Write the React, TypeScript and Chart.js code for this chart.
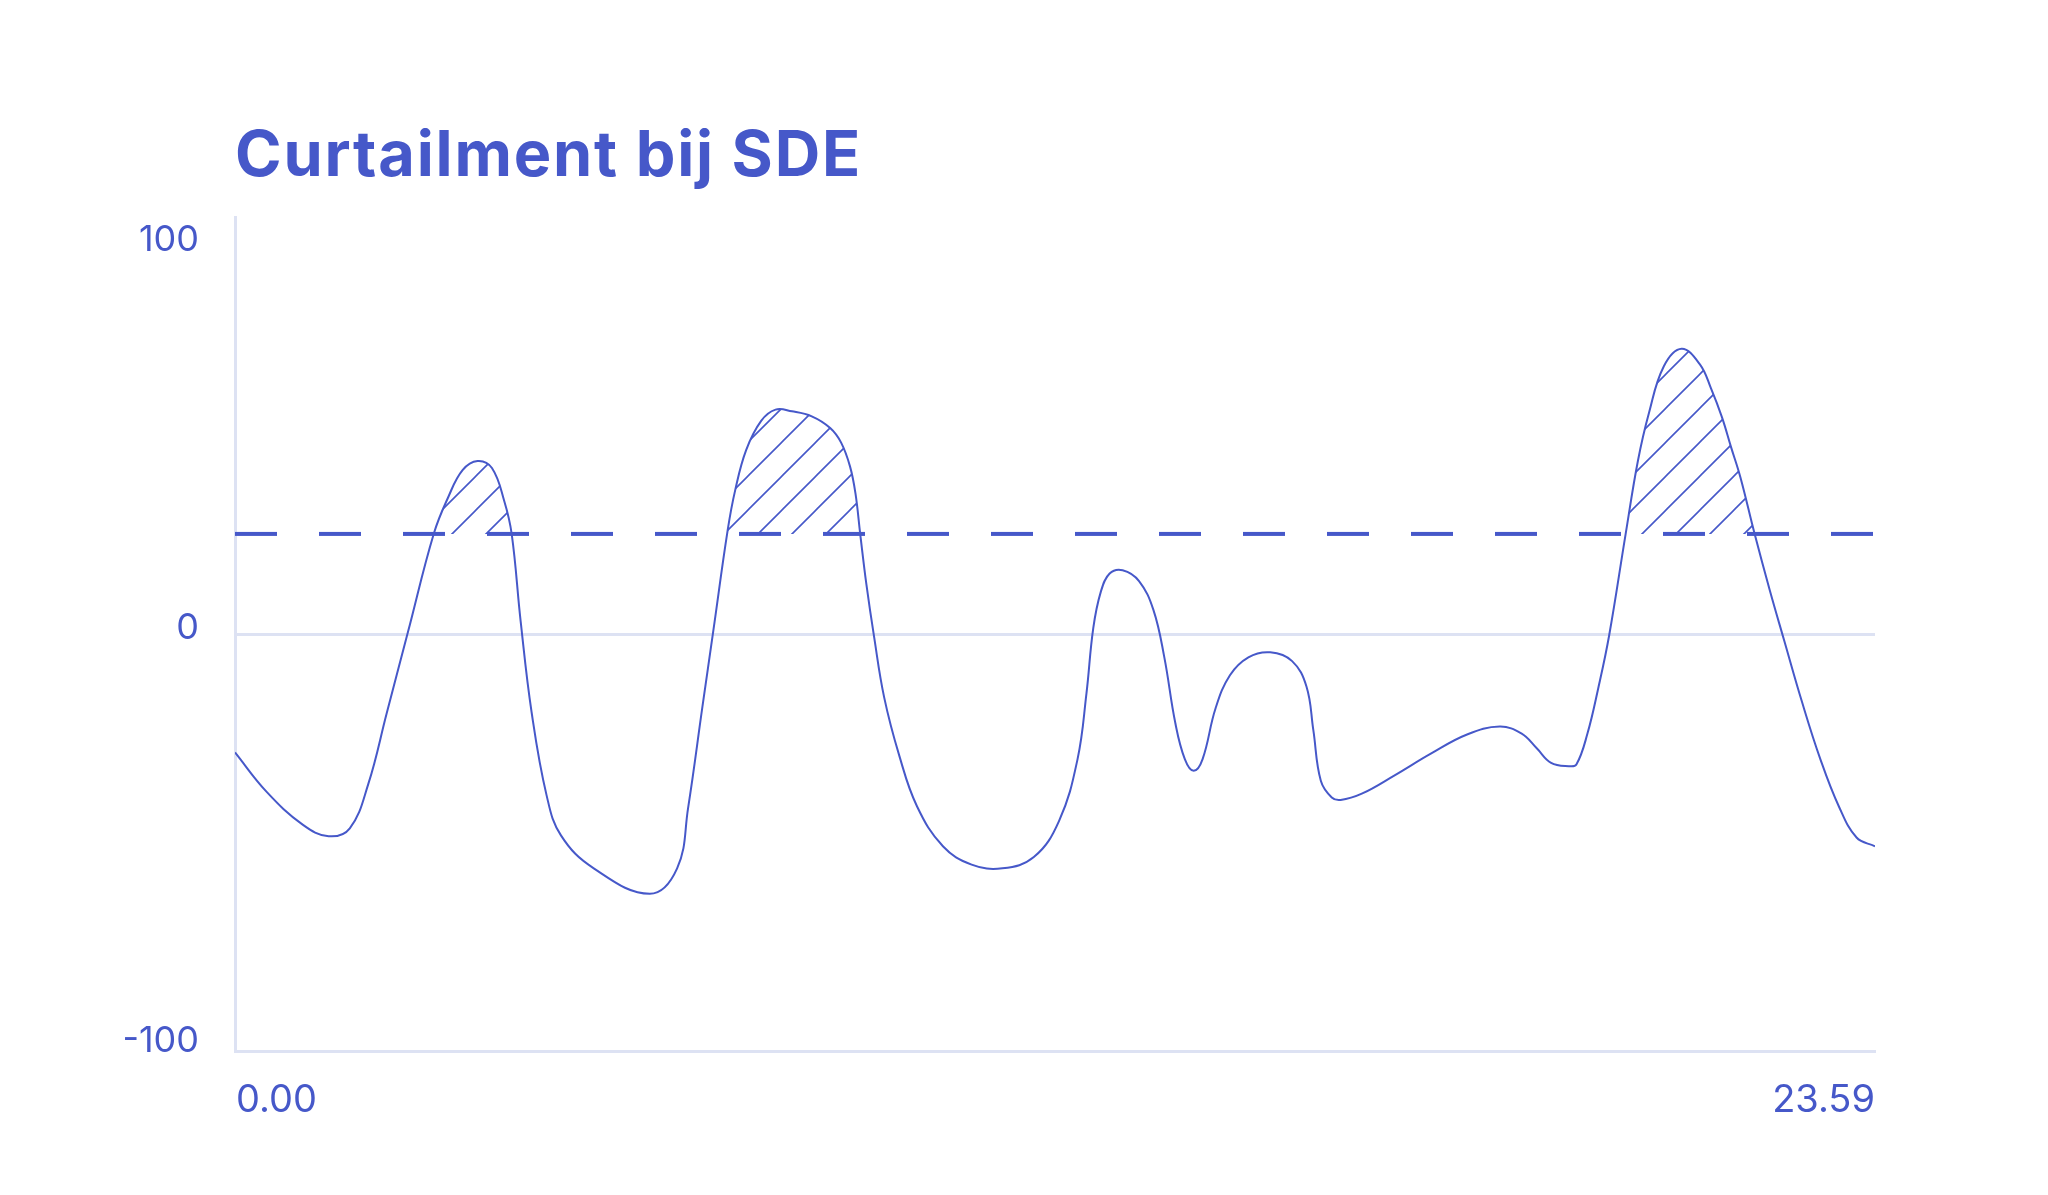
import React, { useEffect, useRef } from "react";
import { Chart, registerables } from "chart.js";

Chart.register(...registerables);

const TITLE = "Curtailment bij SDE";

const HOURS = [
  0.0, 0.46, 0.99, 1.37, 1.68, 1.95, 2.22, 2.53, 2.91, 3.12, 3.33, 3.55, 3.76, 3.94, 4.05,
  4.18, 4.34, 4.56, 4.77, 5.25, 6.07, 6.47, 6.63, 6.84, 7.0, 7.21, 7.32, 7.48, 7.7, 7.91,
  8.15, 8.44, 8.71, 8.87, 9.0, 9.08, 9.15, 9.24, 9.35, 9.5, 9.72, 9.98, 10.36, 10.78, 11.23,
  11.69, 12.06, 12.33, 12.46, 12.56, 12.67, 12.8, 12.99, 13.23, 13.44, 13.6, 13.76, 13.9,
  14.03, 14.16, 14.35, 14.56, 14.83, 15.15, 15.47, 15.68, 15.78, 15.89, 16.05, 16.18, 16.49,
  16.97, 17.5, 18.03, 18.51, 18.83, 19.05, 19.26, 19.52, 19.63, 19.79, 19.95, 20.11, 20.35,
  20.53, 20.69, 20.91, 21.17, 21.44, 21.6, 21.76, 21.89, 22.03, 22.24, 22.46, 22.67, 22.93,
  23.2, 23.47, 23.73, 24.0,
];

const VALUES = [
  -28.4, -37.8, -45.7, -48.5, -46.6, -36.0, -19.0, 0.4, 24.1, 32.8, 39.3, 41.5, 39.8, 31.9, 23.9,
  3.1, -18.7, -38.7, -48.3, -56.2, -62.3, -56.2, -41.8, -17.5, 0.8, 24.9, 34.5, 44.1, 51.1, 53.8,
  53.4, 52.2, 49.4, 45.9, 40.2, 33.7, 23.9, 11.9, -0.4, -15.2, -29.1, -41.3, -50.9, -55.3, -56.2,
  -53.5, -44.8, -30.0, -14.3, 1.4, 10.1, 14.5, 15.3, 12.7, 5.8, -5.6, -21.3, -30.0,
  -32.8, -30.0, -17.8, -9.9, -5.6, -4.4, -6.5, -12.6, -23.0, -35.2, -39.2, -39.8, -38.3,
  -33.9, -28.7, -24.1, -22.2, -23.9, -27.4, -30.9, -31.7, -31.3, -24.0, -13.0, -0.3, 23.9,
  41.5, 52.9, 64.2, 68.4, 64.6, 58.9, 52.0, 45.0, 37.6, 23.9, 10.5, -1.5, -16.2,
  -30.0, -41.3, -48.8, -50.9,
];

const THRESHOLD = 24;
const X_RANGE = [0, 24];
const Y_RANGE = [-100, 100];
const Y_TICKS = [100, 0, -100];
const X_TICK_LABELS = ["0.00", "23.59"];

const BLUE = "#4658c9";
const AXIS = "#dde2f3";
const FONT = "Inter, 'Noto Sans', sans-serif";

function makeHatch(color: string): CanvasPattern | string {
  const s = 34;
  const c = document.createElement("canvas");
  c.width = s;
  c.height = s;
  const g = c.getContext("2d");
  if (!g) return "rgba(0,0,0,0)";
  g.strokeStyle = color;
  g.lineWidth = 1.6;
  g.beginPath();
  g.moveTo(-3, s + 3);
  g.lineTo(s + 3, -3);
  g.moveTo(-3, 3);
  g.lineTo(3, -3);
  g.moveTo(s - 3, s + 3);
  g.lineTo(s + 3, s - 3);
  g.stroke();
  return g.createPattern(c, "repeat") || "rgba(0,0,0,0)";
}

const labelPlugin = {
  id: "customLabels",
  afterDraw(chart: any) {
    const { ctx, scales } = chart;
    const x = scales.x;
    const y = scales.y;
    ctx.save();
    ctx.fillStyle = BLUE;
    ctx.font = `400 36px ${FONT}`;
    ctx.textBaseline = "alphabetic";
    ctx.textAlign = "right";
    Y_TICKS.forEach((v) => {
      const off = v === Y_RANGE[1] ? 34 : v === 0 ? 5 : 1;
      ctx.fillText(String(v), x.left - 36, y.getPixelForValue(v) + off);
    });
    ctx.font = `400 38px ${FONT}`;
    const base = y.bottom + 61;
    ctx.textAlign = "left";
    ctx.fillText(X_TICK_LABELS[0], x.left + 1, base);
    ctx.textAlign = "right";
    ctx.fillText(X_TICK_LABELS[1], x.right, base);
    ctx.restore();
  },
};

export default function App() {
  const canvasRef = useRef<HTMLCanvasElement | null>(null);

  useEffect(() => {
    let chart: Chart | null = null;
    let cancelled = false;
    const build = () => {
      if (cancelled || !canvasRef.current) return;
      const points = HOURS.map((h, i) => ({ x: h, y: VALUES[i] }));
      chart = new Chart(canvasRef.current, {
        type: "line",
        data: {
          datasets: [
            {
              label: "threshold",
              data: [
                { x: X_RANGE[0], y: THRESHOLD },
                { x: X_RANGE[1], y: THRESHOLD },
              ],
              borderColor: BLUE,
              borderWidth: 4,
              borderDash: [42, 42],
              pointRadius: 0,
              fill: false,
              order: 0,
            },
            {
              label: "curtailment",
              data: points,
              borderColor: BLUE,
              borderWidth: 2,
              pointRadius: 0,
              tension: 0.4,
              fill: {
                target: { value: THRESHOLD },
                above: makeHatch(BLUE),
                below: "rgba(0,0,0,0)",
              },
              order: 1,
            },
          ] as any,
        },
        options: {
          animation: false,
          responsive: false,
          devicePixelRatio: 1,
          layout: { padding: { top: 217, right: 173, left: 0, bottom: 0 } },
          plugins: {
            legend: { display: false },
            tooltip: { enabled: false },
            title: { display: false },
          },
          scales: {
            x: {
              type: "linear",
              min: X_RANGE[0],
              max: X_RANGE[1],
              ticks: { display: false },
              grid: { display: true, drawTicks: false, color: "rgba(0,0,0,0)" },
              border: { display: true, color: AXIS, width: 3 },
              afterFit: (s: any) => {
                s.height = 144;
              },
            },
            y: {
              type: "linear",
              min: Y_RANGE[0],
              max: Y_RANGE[1],
              ticks: { display: false, stepSize: 100 },
              grid: {
                display: true,
                drawTicks: false,
                lineWidth: 3,
                color: (c: any) => (c.tick && c.tick.value === 0 ? AXIS : "rgba(0,0,0,0)"),
              },
              border: { display: true, color: AXIS, width: 3 },
              afterFit: (s: any) => {
                s.width = 235;
              },
            },
          },
        } as any,
        plugins: [labelPlugin],
      });
    };
    const fontsReady = (document as any).fonts
      ? Promise.all([
          (document as any).fonts.load(`400 36px Inter`),
          (document as any).fonts.load(`700 63px Inter`),
        ]).catch(() => null)
      : Promise.resolve(null);
    fontsReady.then(build);
    return () => {
      cancelled = true;
      if (chart) chart.destroy();
    };
  }, []);

  return (
    <div style={{ position: "absolute", left: 0, top: 0, width: 2048, height: 1195, background: "#ffffff", overflow: "hidden" }}>
      <div
        style={{
          position: "absolute",
          left: 235,
          top: 122,
          margin: 0,
          fontFamily: FONT,
          fontWeight: 700,
          fontSize: 63,
          lineHeight: 1,
          letterSpacing: 1.8,
          color: BLUE,
          whiteSpace: "nowrap",
        }}
      >
        {TITLE}
      </div>
      <canvas ref={canvasRef} width={2048} height={1195} style={{ display: "block" }} />
    </div>
  );
}
